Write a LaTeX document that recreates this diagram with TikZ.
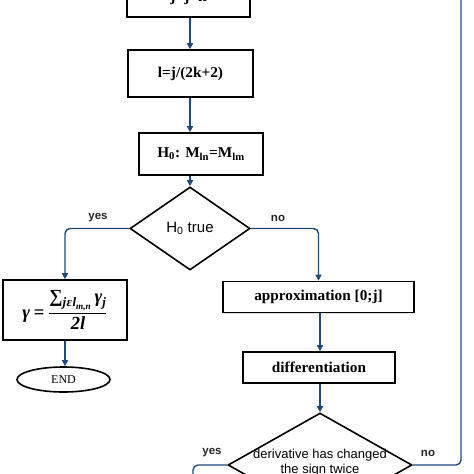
\documentclass[tikz,border=0pt]{standalone}
\usepackage{amsmath}
\usepackage[no-math]{fontspec}
\setmainfont{Liberation Serif}
\newfontfamily\boxfont[FakeStretch=1.02]{Liberation Serif}
\newfontfamily\dfont{Liberation Sans}
\usetikzlibrary{shapes.geometric,arrows.meta,shadows}
\definecolor{conncol}{RGB}{31,73,125}
\newcommand{\bitx}[1]{\text{\bfseries\itshape #1}}
\newcommand{\gammaformula}{$\displaystyle\bitx{γ} \mathbin{\text{\bfseries =}} \frac{\bitx{∑}_{\bitx{j\kern0.5pt ε\kern0.5pt l}_{\bitx{m,n}}}\,\bitx{γ}_{\bitx{j}}}{\bitx{2l}}$}
\tikzset{
  box/.style={draw=black, line width=1.6pt, fill=white, inner sep=0pt,
    font=\boxfont\bfseries\fontsize{15}{17}\selectfont,
    drop shadow={opacity=0.25, shadow xshift=1.2pt, shadow yshift=-1.2pt}},
  dec/.style={diamond, draw=black, line width=1.6pt, fill=white, inner sep=0pt},
  cline/.style={draw=conncol, line width=1.4pt, rounded corners=5pt},
  arr/.style={cline, -{Triangle[length=6pt,width=6pt]}},
  lab/.style={font=\dfont\bfseries\fontsize{11.5}{13}\selectfont, text=black!85}
}
\begin{document}
\begin{tikzpicture}[x=1pt,y=-1pt]
  \useasboundingbox (0,0) rectangle (474,474);
  \fill[white] (0,0) rectangle (474,474);
  \clip (0,0) rectangle (474,474);

  \node[box, minimum width=123pt, minimum height=38pt] (top) at (188.5,-2) {j=j+k};
  \node[box, minimum width=125pt, minimum height=47pt] (b2) at (190.5,73.5) {l=j/(2k+2)};
  \node[box, minimum width=124pt, minimum height=42pt] (b3) at (201,154)
    {H\textsubscript{0}: M\textsubscript{ln}=M\textsubscript{lm}};
  \node[dec, minimum width=120pt, minimum height=83pt,
    font=\dfont\fontsize{15}{17}\selectfont] (d1) at (190,228.5) {H\textsubscript{0} true};

  \node[box, minimum width=124pt, minimum height=60pt, font=\fontsize{18.5}{21}\selectfont] (gamma) at (65,310)
    {\gammaformula};
  \node[ellipse, draw=black, line width=1.6pt, fill=white, inner sep=0pt,
    minimum width=93pt, minimum height=25pt,
    font=\fontsize{12}{14}\selectfont] (end) at (63.5,379.5) {END};

  \node[box, minimum width=191pt, minimum height=31pt] (approx) at (318.5,297) {approximation [0;j]};
  \node[box, minimum width=152pt, minimum height=31pt] (diff) at (319,367.5) {differentiation};
  \node[dec, minimum width=184pt, minimum height=104pt] (d2) at (320,465) {};
  \node[align=center, inner sep=0pt, font=\dfont\fontsize{13}{15}\selectfont] (d2t) at (320,462.5)
    {derivative has changed\\the sign twice};

  \coordinate (yesend) at (193,495);
  \coordinate (noend) at (461,-30);

  \draw[arr] (top.south -| d1.north) -- (b2.north -| d1.north);
  \draw[arr] (b2.south -| d1.north) -- (b3.north -| d1.north);
  \draw[arr] (b3.south -| d1.north) -- (d1.north);
  \draw[arr] (d1.west) -| (gamma.north);
  \draw[arr] (gamma.south) -- (gamma.south |- end.north);
  \draw[arr] (d1.east) -| (approx.north);
  \draw[arr] (approx.south -| d2.north) -- (diff.north -| d2.north);
  \draw[arr] (diff.south -| d2.north) -- (d2.north);
  \draw[cline] (d2.west) -| (yesend);
  \draw[cline] (d2.east) -| (noend);

  \node[lab] (y1) at (98,218) {yes};
  \node[lab] (n1) at (278,218) {no};
  \node[lab] (y2) at (212,453) {yes};
  \node[lab] (n2) at (428,453) {no};
\end{tikzpicture}
\end{document}
